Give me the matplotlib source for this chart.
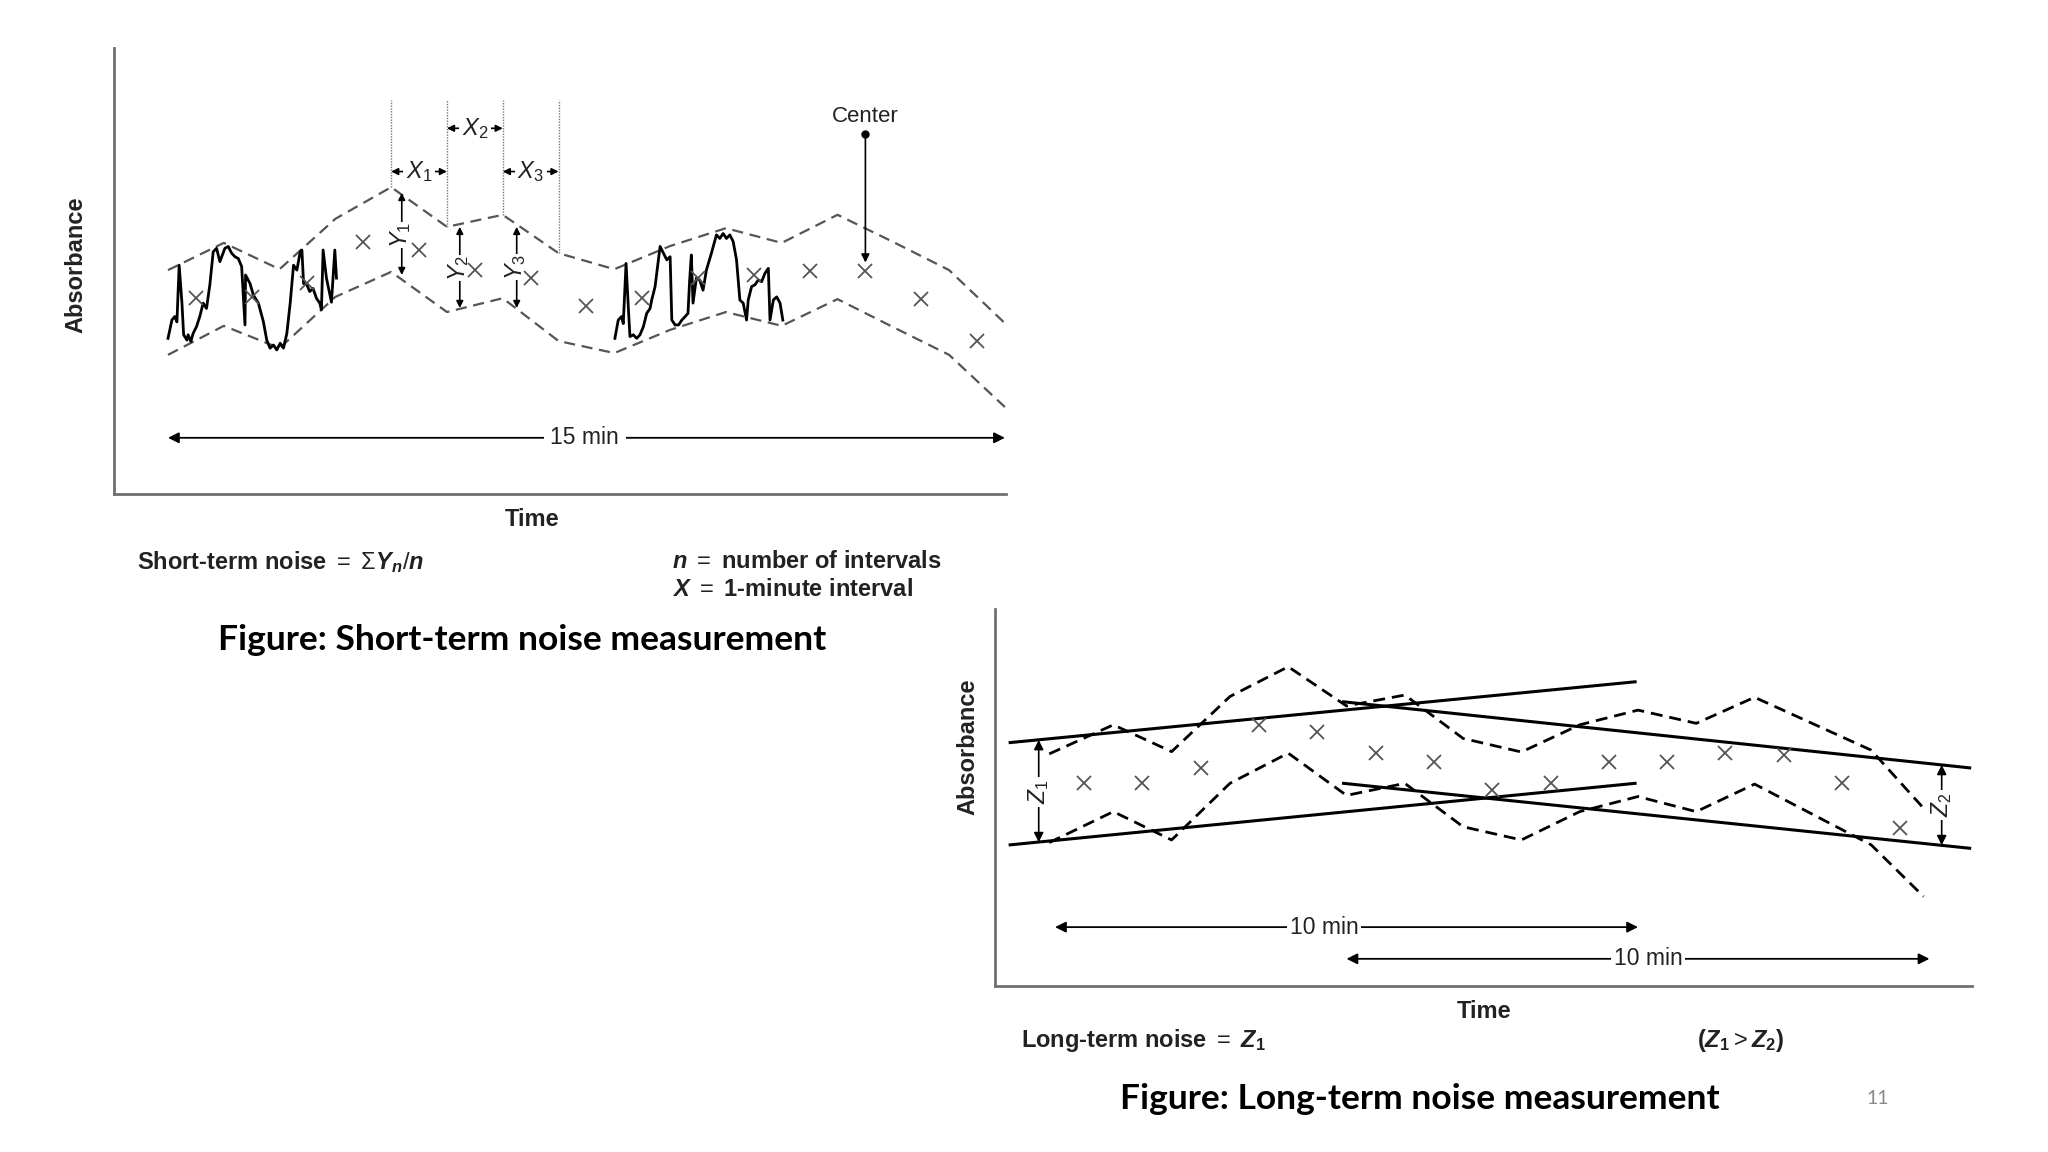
import matplotlib
matplotlib.use("Agg")
import matplotlib.pyplot as plt

plt.rcParams['font.family'] = ['Liberation Sans', 'DejaVu Sans']
plt.rcParams['mathtext.fontset'] = 'custom'
plt.rcParams['mathtext.rm'] = 'Liberation Sans'
plt.rcParams['mathtext.it'] = 'Liberation Sans:italic'
plt.rcParams['mathtext.bf'] = 'Liberation Sans:bold'
plt.rcParams['mathtext.bfit'] = 'Liberation Sans:italic:bold'

# ---- short-term noise diagram (time in min, absorbance in arbitrary units)
band_t = [0, 1, 2, 3, 4, 5, 6, 7, 8, 9, 10, 11, 12, 13, 14, 15]
band_upper = [5.02, 5.63, 5.04, 6.17, 6.88, 5.99, 6.26, 5.40, 5.04, 5.56, 5.96, 5.63, 6.26, 5.65, 5.02, 3.83]
band_lower = [3.12, 3.77, 3.27, 4.42, 4.98, 4.08, 4.39, 3.43, 3.16, 3.68, 4.08, 3.77, 4.37, 3.74, 3.12, 1.95]
mark_t = [0.5, 1.5, 2.5, 3.5, 4.5, 5.5, 6.5, 7.5, 8.5, 9.5, 10.5, 11.5, 12.5, 13.5, 14.5]
mark_a = [4.40, 4.42, 4.73, 5.65, 5.47, 5.02, 4.84, 4.22, 4.39, 4.84, 4.91, 5.00, 5.00, 4.37, 3.43]

noise1_t = [0.00, 0.07, 0.12, 0.16, 0.20, 0.25, 0.28, 0.34, 0.36, 0.41, 0.45, 0.51, 0.57, 0.63,
            0.69, 0.75, 0.81, 0.87, 0.93, 1.02, 1.08, 1.14, 1.20, 1.26, 1.32, 1.38, 1.39, 1.47,
            1.53, 1.62, 1.71, 1.77, 1.83, 1.89, 1.95, 2.01, 2.07, 2.13, 2.19, 2.25, 2.31, 2.37,
            2.40, 2.43, 2.49, 2.54, 2.60, 2.66, 2.72, 2.75, 2.78, 2.84, 2.93, 2.99, 3.02]
noise1_a = [3.49, 3.90, 3.98, 3.86, 5.13, 4.28, 3.57, 3.45, 3.57, 3.42, 3.60, 3.75, 3.98, 4.28,
            4.16, 4.69, 5.43, 5.51, 5.21, 5.51, 5.55, 5.40, 5.32, 5.28, 5.10, 3.79, 4.91, 4.72,
            4.46, 4.28, 3.86, 3.45, 3.27, 3.34, 3.23, 3.38, 3.27, 3.60, 4.28, 5.13, 5.02, 5.43,
            5.47, 4.72, 4.69, 4.54, 4.61, 4.39, 4.28, 4.13, 5.47, 4.84, 4.30, 5.47, 4.84]

noise2_t = [8.01, 8.07, 8.13, 8.16, 8.21, 8.25, 8.28, 8.34, 8.40, 8.46, 8.52, 8.58, 8.64, 8.67,
            8.73, 8.82, 8.88, 8.94, 9.00, 9.03, 9.09, 9.15, 9.21, 9.27, 9.32, 9.35, 9.38, 9.41,
            9.47, 9.53, 9.59, 9.65, 9.74, 9.83, 9.89, 9.95, 10.01, 10.07, 10.13, 10.19, 10.25,
            10.31, 10.37, 10.40, 10.46, 10.52, 10.58, 10.64, 10.70, 10.76, 10.79, 10.85, 10.91,
            10.97, 11.02]
noise2_a = [3.49, 3.90, 3.98, 3.82, 5.17, 4.20, 3.53, 3.57, 3.49, 3.57, 3.75, 4.05, 4.16, 4.35,
            4.65, 5.55, 5.40, 5.25, 5.32, 3.90, 3.79, 3.79, 3.90, 3.98, 4.05, 4.80, 5.36, 4.28,
            4.84, 4.80, 4.57, 5.02, 5.40, 5.81, 5.73, 5.84, 5.73, 5.81, 5.66, 5.25, 4.35,
            4.28, 3.90, 4.35, 4.65, 4.69, 4.80, 4.76, 4.95, 5.06, 3.90, 4.35, 4.42,
            4.28, 3.90]

interval_lines = [4, 5, 6, 7]
interval_top = 8.83
interval_bottom = [6.88, 5.99, 6.26, 5.40]
center_t = 12.5

# ---- long-term noise diagram
band2_t = [-0.1, 1, 2, 3, 4, 5, 6, 7, 8, 9, 10, 11, 12, 14, 14.9]
band2_upper = [6.15, 6.92, 6.21, 7.67, 8.46, 7.42, 7.71, 6.56, 6.20, 6.92, 7.31, 6.96, 7.65, 6.25, 4.71]
band2_lower = [3.80, 4.62, 3.87, 5.37, 6.17, 5.05, 5.37, 4.22, 3.87, 4.62, 5.02, 4.62, 5.35, 3.74, 2.37]
mark2_t = [0.5, 1.5, 2.5, 3.5, 4.5, 5.5, 6.5, 7.5, 8.5, 9.5, 10.5, 11.5, 12.5, 13.5, 14.5]
mark2_a = [5.37, 5.37, 5.77, 6.92, 6.74, 6.17, 5.94, 5.19, 5.37, 5.94, 5.94, 6.17, 6.12, 5.37, 4.18]
rise_t = [-0.77, 9.95]
rise_upper = [6.45, 8.06]
rise_lower = [3.74, 5.37]
fall_t = [4.95, 15.69]
fall_upper = [7.53, 5.78]
fall_lower = [5.37, 3.65]

W, H = 2048, 1152
fig = plt.figure(figsize=(W / 100, H / 100), dpi=100)


def px(x, y):
    return x / W, 1 - y / H


def setup(ax):
    for s in ['top', 'right']:
        ax.spines[s].set_visible(False)
    for s in ['left', 'bottom']:
        ax.spines[s].set_color('#707070')
        ax.spines[s].set_linewidth(2)
    ax.set_xticks([])
    ax.set_yticks([])
    ax.set_ylim(0, 10)


def darrow(ax, x0, y0, x1, y1, lw=1.2, ms=14):
    ax.annotate('', xy=(x1, y1), xytext=(x0, y0),
                arrowprops=dict(arrowstyle='<|-|>', color='black', lw=lw,
                                mutation_scale=ms, shrinkA=0, shrinkB=0))


lab = dict(ha='center', va='center', color='#222222',
           bbox=dict(facecolor='white', edgecolor='none', pad=2))
lab_wide = dict(ha='center', va='center', color='#222222',
                bbox=dict(facecolor='white', edgecolor='none', pad=5))

# ---------------- chart 1
ax1 = fig.add_axes([0.05547, 0.57118, 0.43574, 0.38715])
setup(ax1)
ax1.set_xlim(-0.975, 15.02)

ax1.plot(band_t, band_upper, color='#555555', lw=1.6, dashes=(5, 3))
ax1.plot(band_t, band_lower, color='#555555', lw=1.6, dashes=(5, 3))
ax1.plot(mark_t, mark_a, 'x', color='#555555', ms=10, mew=1.3, zorder=5)
ax1.plot(noise1_t, noise1_a, color='black', lw=2.0)
ax1.plot(noise2_t, noise2_a, color='black', lw=2.0)

ax1.vlines(interval_lines, interval_bottom, interval_top, colors='#777777', lw=1.0,
           linestyles=(0, (1, 1)))
darrow(ax1, 4, 7.23, 5, 7.23, ms=10)
darrow(ax1, 5, 8.20, 6, 8.20, ms=10)
darrow(ax1, 6, 7.23, 7, 7.23, ms=10)
ax1.text(4.5, 7.23, r'$X_1$', fontsize=17, **lab)
ax1.text(5.5, 8.20, r'$X_2$', fontsize=17, **lab)
ax1.text(6.5, 7.23, r'$X_3$', fontsize=17, **lab)

darrow(ax1, 4.19, 6.75, 4.19, 4.91, ms=10)
darrow(ax1, 5.23, 5.99, 5.23, 4.17, ms=10)
darrow(ax1, 6.25, 5.99, 6.25, 4.17, ms=10)
ylab = dict(ha='center', va='center', color='#222222', rotation=90, fontsize=17,
            bbox=dict(facecolor='white', edgecolor='none', pad=0))
ax1.text(4.17, 5.80, r'$Y_1$', **ylab)
ax1.text(5.21, 5.07, r'$Y_2$', **ylab)
ax1.text(6.23, 5.09, r'$Y_3$', **ylab)

ax1.annotate('', xy=(center_t, 5.19), xytext=(center_t, 8.07),
             arrowprops=dict(arrowstyle='-|>', color='black', lw=1.2,
                             mutation_scale=12, shrinkA=0, shrinkB=0))
ax1.plot([center_t], [8.07], 'o', color='black', ms=5)
ax1.text(center_t, 8.22, 'Center', fontsize=16, ha='center', va='bottom', color='#222222')

darrow(ax1, 0, 1.26, 15, 1.26, lw=1.3, ms=16)
ax1.text(7.47, 1.26, '15 min', fontsize=16.5, **lab_wide)

# ---------------- chart 2
ax2 = fig.add_axes([0.48584, 0.14410, 0.47705, 0.32760])
setup(ax2)
ax2.set_xlim(-1.03, 15.73)

ax2.plot(band2_t, band2_upper, color='black', lw=2.0, dashes=(4.3, 2.5))
ax2.plot(band2_t, band2_lower, color='black', lw=2.0, dashes=(4.3, 2.5))
ax2.plot(mark2_t, mark2_a, 'x', color='#555555', ms=10, mew=1.3, zorder=5)
ax2.plot(rise_t, rise_upper, color='black', lw=2.2)
ax2.plot(rise_t, rise_lower, color='black', lw=2.2)
ax2.plot(fall_t, fall_upper, color='black', lw=2.2)
ax2.plot(fall_t, fall_lower, color='black', lw=2.2)

darrow(ax2, -0.28, 6.52, -0.28, 3.81, ms=14)
ax2.text(-0.28, 5.15, r'$Z_1$', fontsize=16.5, rotation=90, **lab)
darrow(ax2, 15.21, 5.86, 15.21, 3.73, ms=14)
ax2.text(15.21, 4.80, r'$Z_2$', fontsize=16.5, rotation=90, **lab)

darrow(ax2, 0, 1.56, 10, 1.56, lw=1.3, ms=16)
ax2.text(4.62, 1.56, '10 min', fontsize=16.5, **lab)
darrow(ax2, 5, 0.72, 15, 0.72, lw=1.3, ms=16)
ax2.text(10.17, 0.72, '10 min', fontsize=16.5, **lab)

# ---------------- labels and captions
bold = dict(fontsize=17, fontweight='bold', color='#222222')
fig.text(*px(76, 265), 'Absorbance', rotation=90, ha='center', va='center', **bold)
fig.text(*px(532, 520), 'Time', ha='center', va='center', **bold)
fig.text(*px(137, 562), r'Short-term noise $=$ $\Sigma\mathbfit{Y}_{\mathbfit{n}}/\mathbfit{n}$',
         ha='left', va='center', **bold)
fig.text(*px(672, 562), r'$\mathbfit{n}$ $=$ number of intervals', ha='left', va='center', **bold)
fig.text(*px(672, 589), r'$\mathbfit{X}$ $=$ 1-minute interval', ha='left', va='center', **bold)

fig.text(*px(968, 747), 'Absorbance', rotation=90, ha='center', va='center', **bold)
fig.text(*px(1484, 1012), 'Time', ha='center', va='center', **bold)
fig.text(*px(1021, 1041), r'Long-term noise $=$ $\mathbfit{Z}_{\mathbf{1}}$',
         ha='left', va='center', **bold)
fig.text(*px(1741, 1041), r'($\mathbfit{Z}_{\mathbf{1}}>\mathbfit{Z}_{\mathbf{2}}$)',
         ha='center', va='center', **bold)

cap = dict(fontsize=25.5, fontweight='bold', color='black', family=['Lato', 'DejaVu Sans'])
fig.text(*px(522, 640), 'Figure: Short-term noise measurement', ha='center', va='center', **cap)
fig.text(*px(1420, 1099), 'Figure: Long-term noise measurement', ha='center', va='center', **cap)
fig.text(*px(1878, 1099), '11', ha='center', va='center', fontsize=14, color='#8a8a8a',
         family=['Lato', 'DejaVu Sans'])

fig.savefig('out.png', dpi=100)
